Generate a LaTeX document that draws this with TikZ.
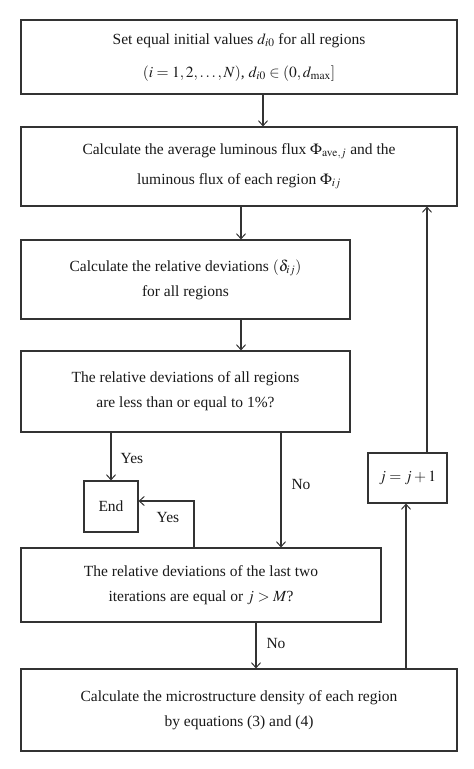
\documentclass[tikz,border=0pt]{standalone}
\usepackage{mathptmx}
\usepackage{fontspec}
\setmainfont{Liberation Serif}
\usetikzlibrary{arrows.meta}
\begin{document}
\begin{tikzpicture}[x=1pt,y=-1pt,
  box/.style={draw=black!80, line width=1.1pt, align=center, inner sep=0pt,
    font=\fontsize{15.5}{25}\selectfont, text=black!90},
  lbl/.style={font=\fontsize{15.5}{18}\selectfont, text=black!90, inner sep=0pt},
  arr/.style={-{Straight Barb[length=5pt,width=9pt,line width=1pt]}, line width=1.1pt, draw=black!80}]
\useasboundingbox (0,0) rectangle (474,769);
\node[box, minimum width=436pt, minimum height=74pt, font=\fontsize{15.5}{33}\selectfont] (b1) at (239,57)
  {Set equal initial values $d_{i0}$ for all regions\\ $(i=1,2,\ldots,N)$, $d_{i0}\in\left(0,d_{\max}\right]$};
\node[box, minimum width=436pt, minimum height=79pt, font=\fontsize{15.5}{30}\selectfont] (b2) at (239,166.5)
  {Calculate the average luminous flux $\Phi_{\mathrm{ave},j}$ and the\\ luminous flux of each region $\Phi_{ij}$};
\node[box, minimum width=329pt, minimum height=79pt] (b3) at (185.5,279.5)
  {Calculate the relative deviations $(\delta_{ij})$\\ for all regions};
\node[box, minimum width=329pt, minimum height=81pt] (b4) at (185.5,391.5)
  {The relative deviations of all regions\\ are less than or equal to 1\%?};
\node[box, minimum width=54pt, minimum height=51pt] (end) at (111,506.5) {End};
\node[box, minimum width=360pt, minimum height=74pt] (b5) at (201,585)
  {The relative deviations of the last two\\ iterations are equal or $j>M$?};
\node[box, minimum width=436pt, minimum height=82pt] (b6) at (239,710)
  {Calculate the microstructure density of each region\\ by equations (3) and (4)};
\node[box, minimum width=79pt, minimum height=50pt] (jb) at (407.5,478) {$j=j+1$};

\draw[arr] (b1.south -| 263,0) -- (b2.north -| 263,0);
\draw[arr] (b2.south -| 241,0) -- (b3.north -| 241,0);
\draw[arr] (b3.south -| 241,0) -- (b4.north -| 241,0);
\draw[arr] (b4.south -| 111,0) -- (end.north);
\draw[arr] (b4.south -| 281,0) -- (b5.north -| 281,0);
\coordinate (yc) at (194,501);
\draw[arr] (b5.north -| yc) -- (yc) -- (end.east |- yc);
\draw[arr] (b5.south -| 256,0) -- (b6.north -| 256,0);
\draw[arr] (b6.north -| 406,0) -- (jb.south -| 406,0);
\draw[arr] (jb.north -| 427,0) -- (b2.south -| 427,0);

\node[lbl] (y1) at (132,458) {Yes};
\node[lbl] (n1) at (301,484) {No};
\node[lbl] (y2) at (168,517) {Yes};
\node[lbl] (n2) at (276,643) {No};
\end{tikzpicture}
\end{document}
